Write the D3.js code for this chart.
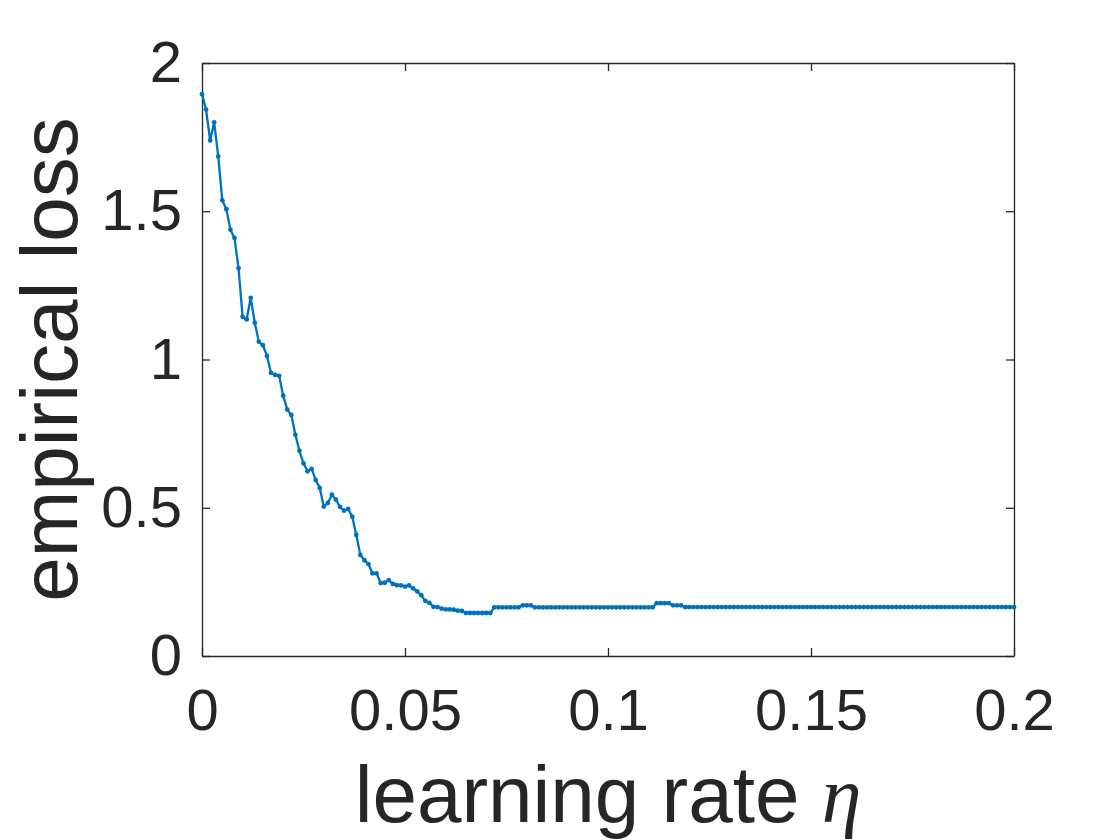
<!DOCTYPE html>
<html>
<head>
<meta charset="utf-8">
<script src="https://cdn.jsdelivr.net/npm/d3@7"></script>
<style>
  html, body { margin: 0; padding: 0; background: #fff; }
  text { font-family: "Liberation Sans", Arial, Helvetica, sans-serif; fill: #262626; }
</style>
</head>
<body>
<div id="chart"></div>
<script>
// learning rate grid (step 0.001, 0 .. 0.2)
const eta = d3.range(0, 201).map(i => i / 1000);

// empirical loss, one value per eta
const loss = [
  1.895, 1.843, 1.739, 1.800, 1.685, 1.537, 1.507, 1.438, 1.410, 1.308,
  1.144, 1.135, 1.208, 1.124, 1.060, 1.048, 1.012, 0.955, 0.948, 0.945,
  0.878, 0.831, 0.813, 0.746, 0.692, 0.650, 0.623, 0.631, 0.594, 0.567,
  0.504, 0.516, 0.544, 0.527, 0.503, 0.490, 0.496, 0.470, 0.409, 0.341,
  0.323, 0.310, 0.279, 0.279, 0.246, 0.247, 0.256, 0.243, 0.239, 0.238,
  0.234, 0.238, 0.228, 0.218, 0.205, 0.186, 0.179, 0.166, 0.165, 0.160,
  0.157, 0.157, 0.156, 0.153, 0.152, 0.145, 0.145, 0.145, 0.145, 0.145,
  0.145, 0.145, 0.164, 0.164, 0.164, 0.164, 0.164, 0.164, 0.164, 0.171,
  0.171, 0.171, 0.164, 0.164, 0.164, 0.164, 0.164, 0.164, 0.164, 0.164,
  0.164, 0.164, 0.164, 0.164, 0.164, 0.164, 0.164, 0.164, 0.164, 0.164,
  0.164, 0.164, 0.164, 0.164, 0.164, 0.164, 0.164, 0.164, 0.164, 0.164,
  0.164, 0.164, 0.178, 0.178, 0.178, 0.178, 0.171, 0.171, 0.171, 0.165,
  0.165, 0.165, 0.165, 0.165, 0.165, 0.165, 0.165, 0.165, 0.165, 0.165,
  0.165, 0.165, 0.165, 0.165, 0.165, 0.165, 0.165, 0.165, 0.165, 0.165,
  0.165, 0.165, 0.165, 0.165, 0.165, 0.165, 0.165, 0.165, 0.165, 0.165,
  0.165, 0.165, 0.165, 0.165, 0.165, 0.165, 0.165, 0.165, 0.165, 0.165,
  0.165, 0.165, 0.165, 0.165, 0.165, 0.165, 0.165, 0.165, 0.165, 0.165,
  0.165, 0.165, 0.165, 0.165, 0.165, 0.165, 0.165, 0.165, 0.165, 0.165,
  0.165, 0.165, 0.165, 0.165, 0.165, 0.165, 0.165, 0.165, 0.165, 0.165,
  0.165, 0.165, 0.165, 0.165, 0.165, 0.165, 0.165, 0.165, 0.165, 0.165,
  0.165
];

const xTicks = [0, 0.05, 0.1, 0.15, 0.2];
const xTickLabels = ["0", "0.05", "0.1", "0.15", "0.2"];
const yTicks = [0, 0.5, 1, 1.5, 2];
const yTickLabels = ["0", "0.5", "1", "1.5", "2"];

const margin = { top: 63, right: 106, bottom: 184, left: 202 };
const W = 1120, H = 840;
const width = W - margin.left - margin.right;
const height = H - margin.top - margin.bottom;
const ink = "#262626";

const svg = d3.select("#chart")
  .append("svg")
  .attr("width", W)
  .attr("height", H);

const g = svg.append("g")
  .attr("transform", `translate(${margin.left},${margin.top})`);

const x = d3.scaleLinear().domain([0, 0.2]).range([0, width]);
const y = d3.scaleLinear().domain([0, 2]).range([height, 0]);

// bottom / left axes with inward ticks
const xAxis = g.append("g")
  .attr("transform", `translate(0,${height})`)
  .call(d3.axisBottom(x).tickValues(xTicks)
    .tickFormat((d, i) => xTickLabels[i])
    .tickSizeInner(-8).tickSizeOuter(0).tickPadding(33));

const yAxis = g.append("g")
  .call(d3.axisLeft(y).tickValues(yTicks)
    .tickFormat((d, i) => yTickLabels[i])
    .tickSizeInner(-8).tickSizeOuter(0).tickPadding(20));

// top / right axes, ticks only
const topAxis = g.append("g")
  .call(d3.axisTop(x).tickValues(xTicks).tickFormat("")
    .tickSizeInner(-8).tickSizeOuter(0));

const rightAxis = g.append("g")
  .attr("transform", `translate(${width},0)`)
  .call(d3.axisRight(y).tickValues(yTicks).tickFormat("")
    .tickSizeInner(-8).tickSizeOuter(0));

[xAxis, yAxis, topAxis, rightAxis].forEach(a => {
  a.selectAll("path, line").attr("stroke", ink).attr("stroke-width", 1.3);
  a.selectAll("text").attr("fill", ink).style("font-size", "58px")
    .style("font-family", "\"Liberation Sans\", Arial, Helvetica, sans-serif");
});

// data
const pts = eta.map((e, i) => ({ e, v: loss[i] }));

const line = d3.line()
  .x(d => x(d.e))
  .y(d => y(d.v));

g.append("path")
  .datum(pts)
  .attr("fill", "none")
  .attr("stroke", "#0072BD")
  .attr("stroke-width", 2.3)
  .attr("stroke-linejoin", "round")
  .attr("d", line);

g.selectAll(".dot")
  .data(pts)
  .enter().append("circle")
  .attr("class", "dot")
  .attr("cx", d => x(d.e))
  .attr("cy", d => y(d.v))
  .attr("r", 2.4)
  .attr("fill", "#0072BD");

// axis labels
const xl = svg.append("text")
  .attr("x", margin.left + width / 2)
  .attr("y", 822)
  .attr("text-anchor", "middle")
  .style("font-size", "80px");
xl.append("tspan").text("learning rate ");
xl.append("tspan")
  .style("font-family", "\"Liberation Serif\", \"Times New Roman\", serif")
  .style("font-style", "italic")
  .text("η");

svg.append("text")
  .attr("transform", `translate(77,${margin.top + height / 2}) rotate(-90)`)
  .attr("text-anchor", "middle")
  .style("font-size", "80px")
  .text("empirical loss");
</script>
</body>
</html>
